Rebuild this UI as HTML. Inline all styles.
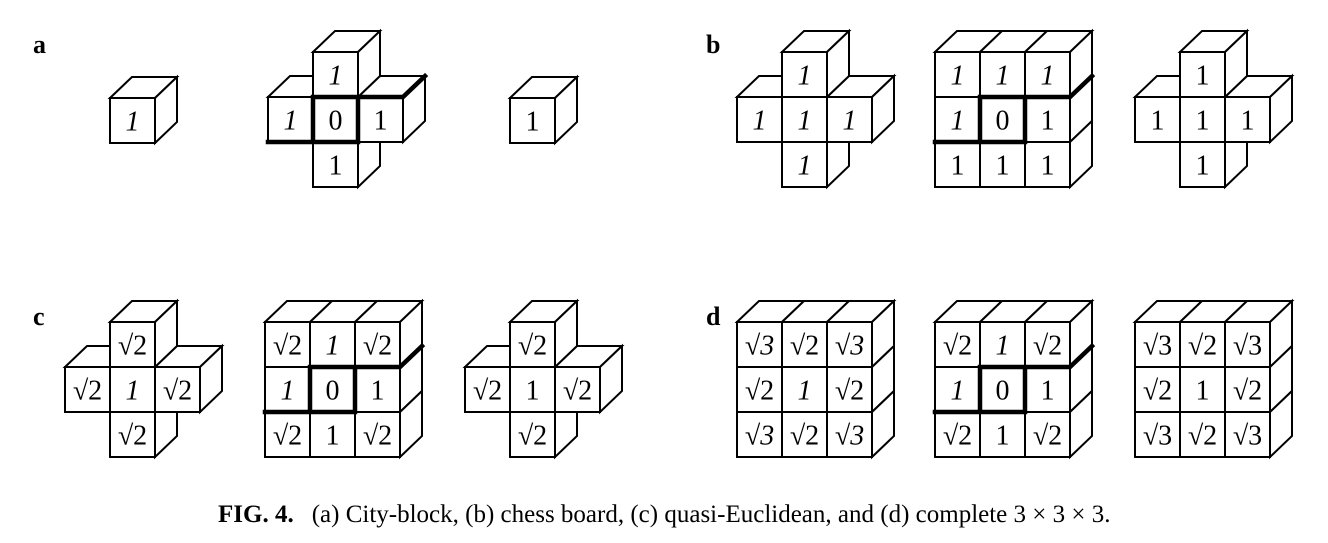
<!DOCTYPE html>
<html><head><meta charset="utf-8">
<style>
html,body{margin:0;padding:0;background:#fff;}
svg{display:block;}
text{font-family:"Liberation Serif","DejaVu Serif",serif;fill:#000;}
</style></head>
<body>
<svg id="s" width="1328" height="543" viewBox="0 0 1328 543" xmlns="http://www.w3.org/2000/svg">
<g id="tops"></g><g id="rights"></g><g id="fronts"></g><g id="thick"></g><g id="labels">
<text x="33" y="53" font-size="26" font-weight="bold">a</text>
<text x="706" y="53" font-size="26" font-weight="bold">b</text>
<text x="33" y="325" font-size="26" font-weight="bold">c</text>
<text x="706" y="325" font-size="26" font-weight="bold">d</text>
<text x="218" y="522" font-size="25"><tspan font-weight="bold">FIG. 4.</tspan><tspan dx="18">(a) City-block, (b) chess board, (c) quasi-Euclidean, and (d) complete 3 × 3 × 3.</tspan></text>
</g>
</svg>
<script>
var S=45,DX=22,DY=21,NS="http://www.w3.org/2000/svg";
var tops=document.getElementById('tops'),rights=document.getElementById('rights'),fronts=document.getElementById('fronts'),thick=document.getElementById('thick');
function el(p,t,a,txt){var e=document.createElementNS(NS,t);for(var k in a)e.setAttribute(k,a[k]);if(txt!==undefined)e.textContent=txt;p.appendChild(e);return e;}
function poly(p,pts){el(p,'polygon',{points:pts.map(function(q){return q.join(',')}).join(' '),fill:'#fff',stroke:'#000','stroke-width':2,'stroke-linejoin':'miter'});}
function label(x,y,tok){
  var cx=x+S/2,cy=y+S/2+10,a={x:cx,y:cy,'font-size':28,'text-anchor':'middle'};
  if(tok==='i1'){a['font-style']='italic';el(fronts,'text',a,'1');}
  else if(tok==='1'||tok==='0'){el(fronts,'text',a,tok);}
  else if(tok==='s2'){el(fronts,'text',a,'√2');}
  else if(tok==='s3'){el(fronts,'text',a,'√3');}
  else if(tok==='s3i'){var t=el(fronts,'text',a);var a1=document.createElementNS(NS,'tspan');a1.textContent='√';t.appendChild(a1);var a2=document.createElementNS(NS,'tspan');a2.setAttribute('font-style','italic');a2.textContent='3';t.appendChild(a2);}
}
// panel: origin x0,y0 (top-left of 3x3 grid), cells: list of [r,c,tok]
function panel(x0,y0,cells){
  var occ={};cells.forEach(function(q){occ[q[0]+','+q[1]]=1;});
  cells.forEach(function(q){
    var r=q[0],c=q[1],x=x0+c*S,y=y0+r*S;
    if(!occ[(r-1)+','+c])poly(tops,[[x,y],[x+DX,y-DY],[x+S+DX,y-DY],[x+S,y]]);
    if(!occ[r+','+(c+1)])poly(rights,[[x+S,y],[x+S+DX,y-DY],[x+S+DX,y+S-DY],[x+S,y+S]]);
    poly(fronts,[[x,y],[x+S,y],[x+S,y+S],[x,y+S]]);
    label(x,y,q[2]);
  });
}
function cross(x0,y0,t){panel(x0,y0,[[0,1,t[0]],[1,0,t[1]],[1,1,t[2]],[1,2,t[3]],[2,1,t[4]]]);}
function grid(x0,y0,g){var a=[];for(var r=0;r<3;r++)for(var c=0;c<3;c++)a.push([r,c,g[r][c]]);panel(x0,y0,a);}
function thickMark(x0,y0){
  var cx=x0+S,cy=y0+S;
  var d='M'+x0+' '+(cy+S)+' L'+cx+' '+(cy+S)+' M'+cx+' '+cy+' h'+S+' v'+S+' h'+(-S)+' Z M'+(cx+S)+' '+cy+' h'+S+' l'+DX+' '+(-DY);
  el(thick,'path',{d:d,fill:'none',stroke:'#000','stroke-width':4.5,'stroke-linecap':'square'});
}
panel(110,98,[[0,0,'i1']]);
cross(268,52,['i1','i1','0','1','1']);thickMark(268,52);
panel(510,98,[[0,0,'1']]);
cross(737,52,['i1','i1','i1','i1','i1']);
grid(935,52,[['i1','i1','i1'],['i1','0','1'],['1','1','1']]);thickMark(935,52);
cross(1135,52,['1','1','1','1','1']);
cross(65,322,['s2','s2','i1','s2','s2']);
grid(265,322,[['s2','i1','s2'],['i1','0','1'],['s2','1','s2']]);thickMark(265,322);
cross(465,322,['s2','s2','1','s2','s2']);
grid(737,322,[['s3i','s2','s3i'],['s2','i1','s2'],['s3i','s2','s3i']]);
grid(935,322,[['s2','i1','s2'],['i1','0','1'],['s2','1','s2']]);thickMark(935,322);
grid(1135,322,[['s3','s2','s3'],['s2','1','s2'],['s3','s2','s3']]);
</script>
</body></html>
